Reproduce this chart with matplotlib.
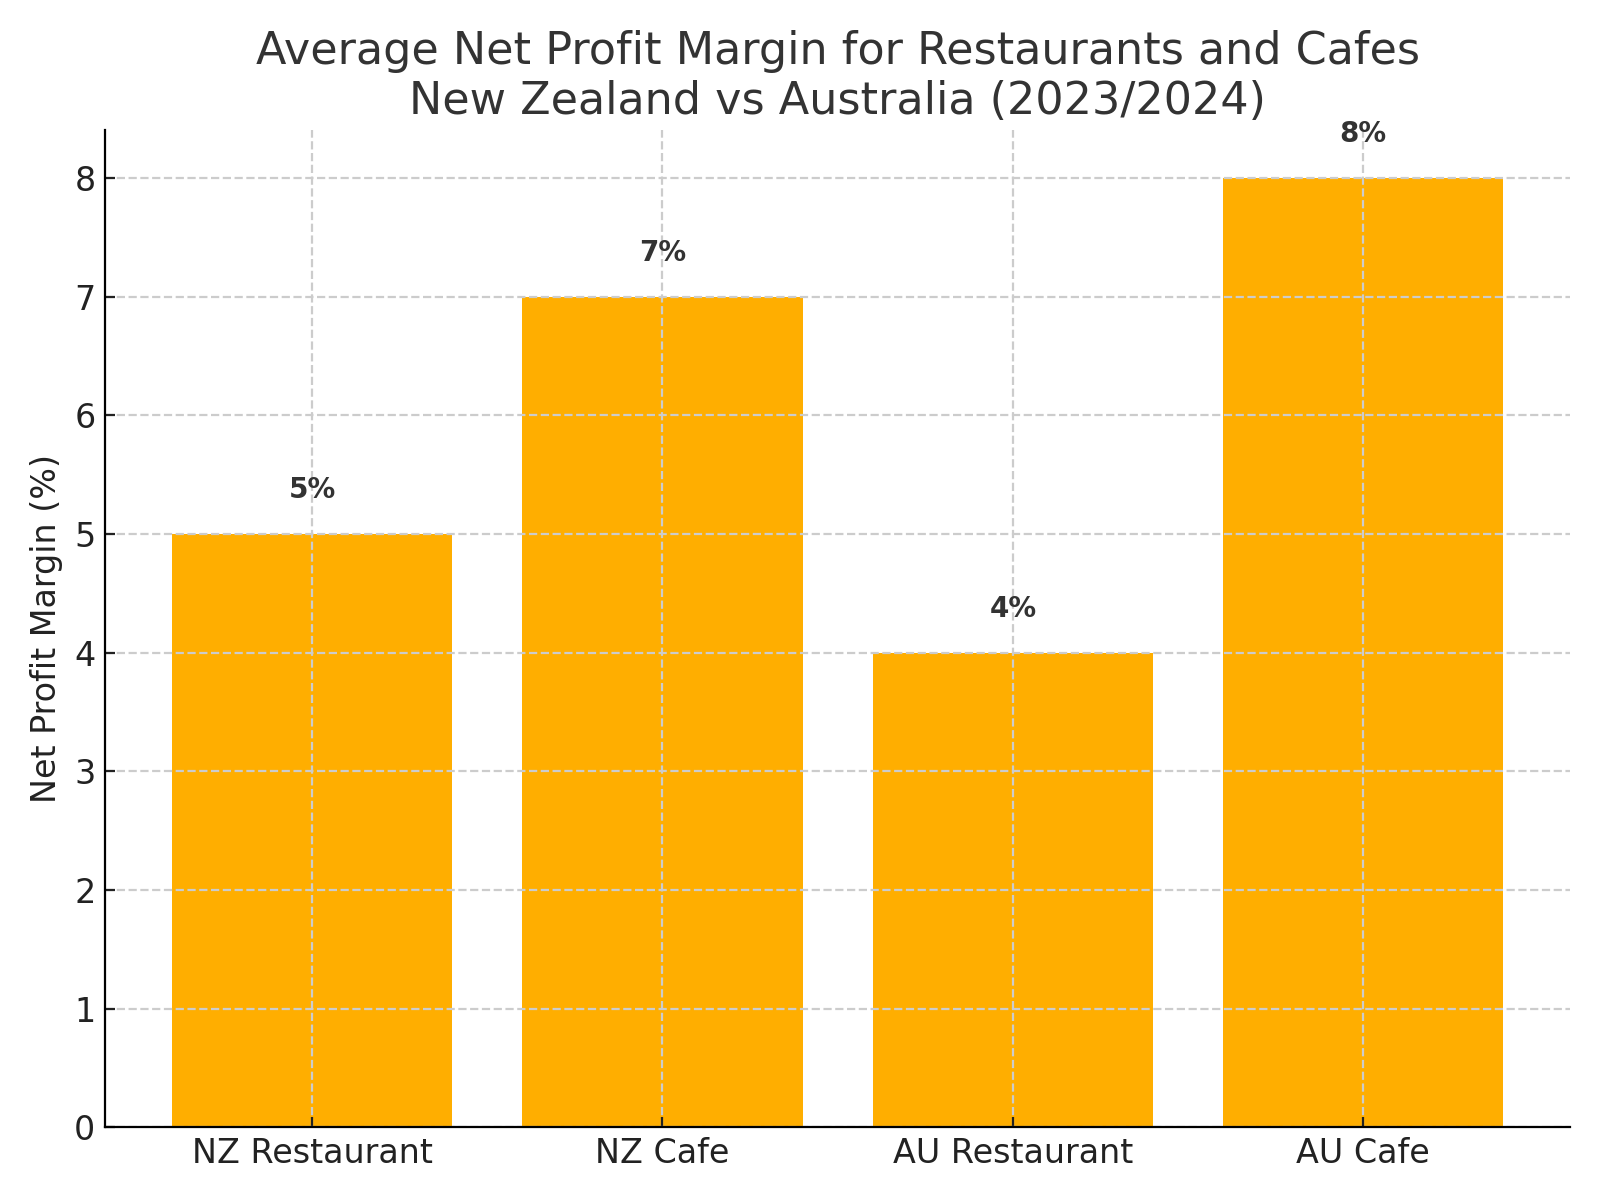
#bar chart of average net profit margin, NZ vs AU
import matplotlib.pyplot as plt

categories = ['NZ Restaurant', 'NZ Cafe', 'AU Restaurant', 'AU Cafe']
margins = [5, 7, 4, 8]
labels = ['5%', '7%', '4%', '8%']

def main():
    plt.rcParams['font.family'] = 'DejaVu Sans'
    plt.rcParams['text.color'] = '#333333'
    fig, ax = plt.subplots(figsize=(8, 6), dpi=200)

    bars = ax.bar(categories, margins, color='#FFAE00', width=0.8)

    #value labels above bars
    for bar, lab in zip(bars, labels):
        ax.text(bar.get_x() + bar.get_width() / 2, bar.get_height() + 0.25, lab,
                ha='center', va='bottom', fontsize=10, fontweight='bold', color='#333333')

    ax.set_title('Average Net Profit Margin for Restaurants and Cafes\nNew Zealand vs Australia (2023/2024)',
                 fontsize=16, color='#333333')
    ax.set_ylabel('Net Profit Margin (%)', fontsize=12, color='#222222')
    ax.tick_params(direction='in', labelsize=12, colors='#222222')
    ax.spines['top'].set_visible(False)
    ax.spines['right'].set_visible(False)
    for s in ('left', 'bottom'):
        ax.spines[s].set_zorder(4)
    ax.grid(True, linestyle='--', color='#cccccc', linewidth=0.8)
    ax.set_axisbelow(False)

    plt.tight_layout()
    plt.savefig('out.png')

main()
